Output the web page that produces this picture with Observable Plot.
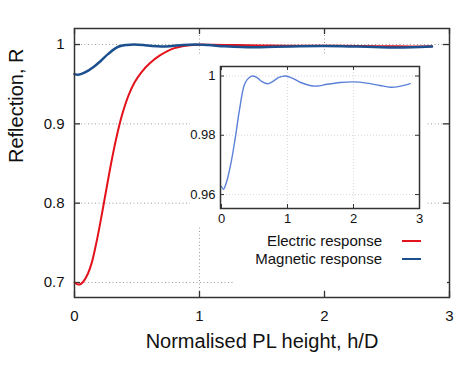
<!DOCTYPE html>
<html><head><meta charset="utf-8">
<script src="https://cdn.jsdelivr.net/npm/d3@7"></script>
<script src="https://cdn.jsdelivr.net/npm/@observablehq/plot@0.6"></script>
<style>
body{margin:0;background:#fff;font-family:"Liberation Sans",Arial,sans-serif;}
#wrap{position:relative;width:474px;height:365px;overflow:hidden;}
#main{position:absolute;left:0;top:0;}
#inset{position:absolute;left:190px;top:55px;background:#fff;}
#legend{position:absolute;left:235px;top:226px;width:212px;height:62px;background:#fff;}
.row{position:absolute;left:0;height:18px;width:212px;}
.row .lab{position:absolute;left:0;width:147px;text-align:right;font-size:15px;line-height:18px;color:#111;white-space:nowrap;}
.row .sw{position:absolute;left:167px;top:8px;width:19px;height:2px;}
</style></head>
<body>
<div id="wrap"><div id="main"></div><div id="inset"></div><div id="legend"></div></div>
<script>
// ---- data ----
const electricH = [0, 0.02, 0.04, 0.07, 0.107, 0.14, 0.18, 0.22, 0.26, 0.30, 0.34, 0.38, 0.43, 0.48, 0.535, 0.60, 0.68, 0.80, 0.95, 1.1, 1.3, 1.5, 1.7, 2.0, 2.3, 2.5, 2.7, 2.86];
const electricR = [0.700, 0.698, 0.6975, 0.701, 0.711, 0.726, 0.754, 0.787, 0.822, 0.856, 0.886, 0.911, 0.935, 0.952, 0.965, 0.976, 0.986, 0.9955, 0.9995, 0.9998, 0.9994, 0.9988, 0.9986, 0.9985, 0.9982, 0.9978, 0.9976, 0.9978];
const magneticH = [0, 0.03, 0.08, 0.15, 0.21, 0.27, 0.35, 0.42, 0.48, 0.55, 0.62, 0.70, 0.78, 0.87, 0.97, 1.07, 1.2, 1.34, 1.45, 1.6, 1.8, 2.0, 2.2, 2.4, 2.56, 2.7, 2.86];
const magneticR = [0.9627, 0.9618, 0.9645, 0.9714, 0.9793, 0.9882, 0.9972, 0.9995, 1.0000, 0.9993, 0.9980, 0.9974, 0.9982, 0.9995, 1.0000, 0.9993, 0.9978, 0.9968, 0.9966, 0.9972, 0.9978, 0.9980, 0.9976, 0.9968, 0.9962, 0.9965, 0.9974];
const seriesNames = ["Electric response", "Magnetic response"];
const seriesColors = ["#e3121b", "#1b4f8e"];
const insetColor = "#5b80d8";
const xTicks = [0, 1, 2, 3];
const xTickLabels = ["0", "1", "2", "3"];
const yTicks = [0.7, 0.8, 0.9, 1];
const yTickLabels = ["0.7", "0.8", "0.9", "1"];
const insetYTicks = [0.96, 0.98, 1];
const insetYTickLabels = ["0.96", "0.98", "1"];
const xTitle = "Normalised PL height, h/D";
const yTitle = "Reflection, R";

const electric = electricH.map((h, i) => ({h, R: electricR[i]}));
const magnetic = magneticH.map((h, i) => ({h, R: magneticR[i]}));
const font = '"Liberation Sans", Arial, sans-serif';

// ---- main chart ----
const W = 474, H = 365, mL = 74, mR = 25, mT = 28, mB = 68;
const fw = W - mL - mR, fh = H - mT - mB;
const fmtX = d => xTickLabels[xTicks.indexOf(d)];
const fmtY = d => yTickLabels[yTicks.indexOf(d)];
const gridStyle = {stroke: "#9a9a9a", strokeOpacity: 1, strokeWidth: 1, strokeDasharray: "1,2.5"};
const main = Plot.plot({
  width: W, height: H, marginLeft: mL, marginRight: mR, marginTop: mT, marginBottom: mB,
  style: {fontFamily: font, fontSize: "15px", color: "#111", background: "transparent"},
  x: {domain: [0, 3]},
  y: {domain: [0.6811, 1.0202]},
  marks: [
    Plot.gridX(xTicks.filter(d => d > 0 && d < 3), gridStyle),
    Plot.gridY(yTicks, gridStyle),
    Plot.axisX(xTicks, {tickSize: 0, tickPadding: 13, tickFormat: fmtX, label: null, fontSize: 15}),
    Plot.axisY(yTicks, {tickSize: 0, tickPadding: 10, tickFormat: fmtY, label: null, fontSize: 15}),
    Plot.ruleX(xTicks, {x: d => d, insetTop: fh - 6, stroke: "#333", strokeWidth: 1.3}),
    Plot.ruleX(xTicks, {x: d => d, insetBottom: fh - 6, stroke: "#333", strokeWidth: 1.3}),
    Plot.ruleY(yTicks, {y: d => d, insetRight: fw - 6, stroke: "#333", strokeWidth: 1.3}),
    Plot.ruleY(yTicks, {y: d => d, insetLeft: fw - 6, stroke: "#333", strokeWidth: 1.3}),
    Plot.line(electric, {x: "h", y: "R", stroke: seriesColors[0], strokeWidth: 2, curve: "catmull-rom"}),
    Plot.line(magnetic, {x: "h", y: "R", stroke: seriesColors[1], strokeWidth: 2.5, curve: "catmull-rom"}),
    Plot.frame({stroke: "#333", strokeWidth: 1.5}),
    Plot.text([xTitle], {text: d => d, frameAnchor: "bottom", dy: 50, fontSize: 20, fill: "#111"}),
    Plot.text([yTitle], {text: d => d, frameAnchor: "left", dx: -58, rotate: -90, fontSize: 20, fill: "#111"})
  ]
});
document.getElementById("main").appendChild(main);

// ---- inset ----
const iW = 237, iH = 170, iL = 30, iR = 8, iT = 11, iB = 17;
const ifw = iW - iL - iR, ifh = iH - iT - iB;
const fmtIY = d => insetYTickLabels[insetYTicks.indexOf(d)];
const insetGrid = {stroke: "#d8d8d8", strokeOpacity: 1, strokeWidth: 1, strokeDasharray: "1,2"};
const inset = Plot.plot({
  width: iW, height: iH, marginLeft: iL, marginRight: iR, marginTop: iT, marginBottom: iB,
  style: {fontFamily: font, fontSize: "13px", color: "#111", background: "#fff"},
  x: {domain: [-0.015, 3]},
  y: {domain: [0.9553, 1.0032]},
  marks: [
    Plot.gridX([1, 2], insetGrid),
    Plot.gridY(insetYTicks, insetGrid),
    Plot.axisX(xTicks, {tickSize: 0, tickPadding: 5, tickFormat: fmtX, label: null, fontSize: 13}),
    Plot.axisY(insetYTicks, {tickSize: 0, tickPadding: 5, tickFormat: fmtIY, label: null, fontSize: 13}),
    Plot.ruleX(xTicks, {x: d => d, insetTop: ifh - 4, stroke: "#333", strokeWidth: 1}),
    Plot.ruleX(xTicks, {x: d => d, insetBottom: ifh - 4, stroke: "#333", strokeWidth: 1}),
    Plot.ruleY(insetYTicks, {y: d => d, insetRight: ifw - 4, stroke: "#333", strokeWidth: 1}),
    Plot.ruleY(insetYTicks, {y: d => d, insetLeft: ifw - 4, stroke: "#333", strokeWidth: 1}),
    Plot.line(magnetic, {x: "h", y: "R", stroke: insetColor, strokeWidth: 1.4, curve: "catmull-rom"}),
    Plot.frame({stroke: "#333", strokeWidth: 1.5})
  ]
});
document.getElementById("inset").appendChild(inset);

// ---- legend ----
const legend = document.getElementById("legend");
seriesNames.forEach((name, i) => {
  const row = document.createElement("div");
  row.className = "row";
  row.style.top = (6 + i * 18) + "px";
  const lab = document.createElement("span");
  lab.className = "lab"; lab.textContent = name;
  const sw = document.createElement("span");
  sw.className = "sw"; sw.style.background = seriesColors[i];
  row.appendChild(lab); row.appendChild(sw);
  legend.appendChild(row);
});
</script>
</body></html>
